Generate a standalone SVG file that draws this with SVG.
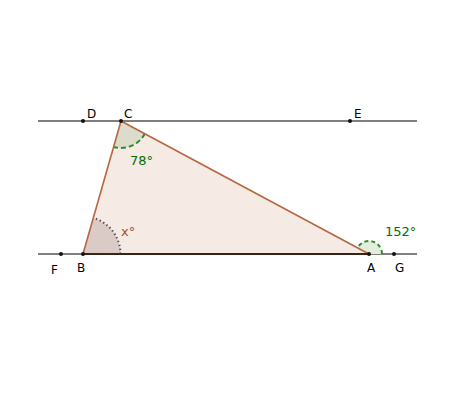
<svg xmlns="http://www.w3.org/2000/svg" width="450" height="401" viewBox="0 0 450 401">
<style>
.ln{stroke:#555;stroke-width:1.6;fill:none}
.pt{fill:#111}
.lbl{font-family:"DejaVu Sans",sans-serif;font-size:12px;fill:#000}
.ang{font-family:"DejaVu Sans",sans-serif;font-size:13px}
.edge{stroke:#b5673f;stroke-width:1.6;fill:none}
</style>
<rect width="450" height="401" fill="#fff"/>
<g id="lines">
<line class="ln" x1="38" y1="121" x2="417" y2="121"/>
<line class="ln" x1="38" y1="254" x2="417" y2="254"/>
</g>
<g id="triangle">
<polygon points="83,254 121,121 369,254" fill="#f5eae4" stroke="none"/>
</g>
<g id="angle-B">
<path d="M83,254 L120.5,254 A37.5,37.5 0 0 0 93.3,217.95 Z" fill="#dbcbc7" stroke="none"/>
<path d="M120.5,254 A37.5,37.5 0 0 0 93.3,217.95" fill="none" stroke="#555" stroke-width="2" stroke-dasharray="1.5,2.5"/>
<text class="ang" x="121" y="236" fill="#a0522d">x°</text>
</g>
<g id="angle-C">
<path d="M121,121 L144.8,133.76 A27,27 0 0 1 113.58,146.96 Z" fill="#dcdccc" stroke="none"/>
<path d="M144.8,133.76 A27,27 0 0 1 113.58,146.96" fill="none" stroke="#2e8b2e" stroke-width="2" stroke-dasharray="5,3"/>
<text class="ang" x="130" y="165" fill="#007000">78°</text>
</g>
<g id="angle-A">
<path d="M369,254 L382,254 A13,13 0 0 0 357.54,247.86 Z" fill="#e2eedc" stroke="none"/>
<path d="M382,254 A13,13 0 0 0 357.54,247.86" fill="none" stroke="#2e8b2e" stroke-width="2" stroke-dasharray="4,3"/>
<text class="ang" x="385" y="236" fill="#007000">152°</text>
</g>
<g id="connectors">
<line class="edge" x1="83" y1="254" x2="121" y2="121"/>
<line class="edge" x1="121" y1="121" x2="369" y2="254"/>
<line x1="83" y1="254" x2="369" y2="254" stroke="#3a2418" stroke-width="1.8"/>
</g>
<g id="points">
<circle class="pt" cx="83" cy="121" r="2"/>
<circle class="pt" cx="121" cy="121" r="2"/>
<circle class="pt" cx="350" cy="121" r="2"/>
<circle class="pt" cx="61" cy="254" r="2"/>
<circle class="pt" cx="83" cy="254" r="2"/>
<circle class="pt" cx="369" cy="254" r="2"/>
<circle class="pt" cx="394" cy="254" r="2"/>
</g>
<g id="labels">
<text class="lbl" x="87" y="118">D</text>
<text class="lbl" x="124" y="118">C</text>
<text class="lbl" x="354" y="118">E</text>
<text class="lbl" x="51" y="274">F</text>
<text class="lbl" x="77" y="272">B</text>
<text class="lbl" x="367" y="272">A</text>
<text class="lbl" x="395" y="272">G</text>
</g>
</svg>
